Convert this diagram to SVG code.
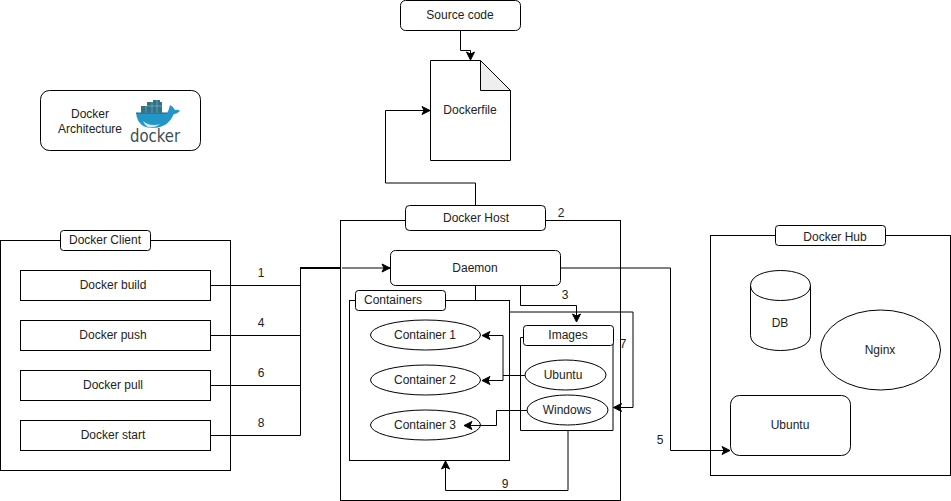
<svg xmlns="http://www.w3.org/2000/svg" width="951" height="501" viewBox="0 0 951 501">
<style>
.s{fill:#fff;stroke:#000;stroke-width:1}
.c{fill:none;stroke:#000;stroke-width:1}
text{font-family:"Liberation Sans",Arial,sans-serif;font-size:12px;fill:#222;text-anchor:middle}
</style>
<defs>
<marker id="a" markerUnits="userSpaceOnUse" markerWidth="12" markerHeight="12" refX="9" refY="6" orient="auto"><path d="M1 2L9 6L1 10L3 6Z" fill="#000" stroke="#000" stroke-width="1"/></marker>
</defs>
<rect width="951" height="501" fill="#fff"/>
<g id="host-frame"><rect class="s" x="340.5" y="220.5" width="280" height="280"/></g>
<g id="client-frame"><rect class="s" x="0.5" y="240.5" width="230" height="230"/></g>
<g id="hub-frame"><rect class="s" x="710.5" y="235.5" width="240" height="240"/></g>
<g id="containers-frame"><rect class="s" x="349.5" y="300.5" width="160" height="160"/></g>
<g id="images-frame"><path class="s" d="M520.500 337.500H613V430.500H520.500Z"/></g>
<g id="source-code"><rect class="s" x="400.5" y="0.5" width="120" height="30" rx="5"/><text x="460" y="19">Source code</text></g>
<g id="dockerfile"><path class="s" d="M430.5 60.5H480.5L510.5 90.5V160.5H430.5Z"/><path d="M480.5 60.5V90.5H510.5Z" fill="#eee" stroke="#000"/><text x="470" y="114">Dockerfile</text></g>
<g id="docker-architecture"><rect class="s" x="40.5" y="90.5" width="160" height="60" rx="9"/><text x="90" y="118">Docker</text><text x="90" y="133">Architecture</text>
<g id="logo">
<path d="M136 113H167Q169 110 170 105Q174 107 175 110Q178 109 180 111Q177 114 173.500 114.500Q168 128 152 128Q138 128 136 113Z" fill="#2396c9"/>
<path d="M136 113H167" stroke="#1d5f78" stroke-width="1" fill="none"/>
<path d="M143 121Q150 127 160 124Q155 128 149 127.500Q145 126 143 121Z" fill="#d5e9f2"/>
<path d="M141 106h21v7h-21zM147 102h15v4h-15zM153 100h7v3h-7z" fill="#2f7488"/>
<path d="M146 106v7M152 102v11M157 100v13M147 106h15" stroke="#9cc4cf" stroke-width="0.5" fill="none"/>
<text x="155" y="142" textLength="50" lengthAdjust="spacingAndGlyphs" style="font-size:17px;fill:#394d54;font-family:'DejaVu Sans',sans-serif">docker</text>
</g></g>
<g id="docker-host-label"><rect class="s" x="405.500" y="205.500" width="140" height="25" rx="4"/><text x="476" y="222">Docker Host</text></g>
<g id="daemon"><rect class="s" x="390.500" y="250.500" width="170" height="35" rx="5"/><text x="475" y="272">Daemon</text></g>
<g id="containers-label"><rect class="s" x="355.500" y="290.500" width="90" height="20" rx="3"/><text x="393" y="304">Containers</text></g>
<g id="images-label"><rect class="s" x="523.500" y="325.500" width="90" height="20" rx="3"/><text x="568" y="339">Images</text></g>
<g id="container-1"><ellipse class="s" cx="425.500" cy="335" rx="55" ry="15"/><text x="425" y="339">Container 1</text></g>
<g id="container-2"><ellipse class="s" cx="425.500" cy="380" rx="55" ry="15"/><text x="425" y="384">Container 2</text></g>
<g id="container-3"><ellipse class="s" cx="425.500" cy="425" rx="55" ry="15"/><text x="425" y="429">Container 3</text></g>
<g id="image-ubuntu"><ellipse class="s" cx="565.500" cy="375" rx="40.500" ry="15"/><text x="563" y="379">Ubuntu</text></g>
<g id="image-windows"><ellipse class="s" cx="567.500" cy="410" rx="40.500" ry="15"/><text x="567" y="414">Windows</text></g>
<g id="docker-client-label"><rect class="s" x="60.500" y="230.500" width="90" height="20" rx="3"/><text x="105" y="244">Docker Client</text></g>
<g id="docker-build"><rect class="s" x="20.500" y="270.500" width="190" height="30"/><text x="113" y="289">Docker build</text></g>
<g id="docker-push"><rect class="s" x="20.500" y="320.500" width="190" height="30"/><text x="113" y="339">Docker push</text></g>
<g id="docker-pull"><rect class="s" x="20.500" y="370.500" width="190" height="30"/><text x="113" y="389">Docker pull</text></g>
<g id="docker-start"><rect class="s" x="20.500" y="420.500" width="190" height="30"/><text x="113" y="439">Docker start</text></g>
<g id="docker-hub-label"><rect class="s" x="775.500" y="225.500" width="110" height="20" rx="3"/><text x="835" y="241">Docker Hub</text></g>
<g id="db"><path class="s" d="M750.500 285.500C750.500 265.500 810.500 265.500 810.500 285.500V335.500C810.500 355.500 750.500 355.500 750.500 335.500Z"/><path class="c" d="M750.500 285.500C750.500 305.500 810.500 305.500 810.500 285.500"/><text x="780" y="327">DB</text></g>
<g id="nginx"><ellipse class="s" cx="880.500" cy="350" rx="60" ry="40"/><text x="880" y="354">Nginx</text></g>
<g id="hub-ubuntu"><rect class="s" x="730.500" y="395.500" width="120" height="60" rx="9"/><text x="790" y="429">Ubuntu</text></g>
<g id="connectors">
<path class="c" d="M460.500 30.500V50.500H470.500V60" marker-end="url(#a)"/>
<path class="c" d="M475.500 205V183H385.500V110.500H430" marker-end="url(#a)"/>
<path class="c" d="M210.500 285.500H300.500V268.500"/>
<path class="c" d="M210.500 335.500H300.500V268.500"/>
<path class="c" d="M210.500 385.500H300.500V268.500"/>
<path class="c" d="M210.500 435.500H300.500V268"/>
<path d="M300 268H340" fill="none" stroke="#000" stroke-width="2"/>
<path class="c" d="M342 268H390" marker-end="url(#a)"/>
<path class="c" d="M475.500 285.500V300"/>
<path class="c" d="M520.500 285.500V305.500H576.500V322" marker-end="url(#a)"/>
<path class="c" d="M510 312H633V407.500H613.500" marker-end="url(#a)"/>
<path class="c" d="M561 268H670.500V450.500H730" marker-end="url(#a)"/>
<path class="c" d="M525 375.500H503V335.500H482" marker-end="url(#a)"/>
<path class="c" d="M503 375.500V380.500H482" marker-end="url(#a)"/>
<path class="c" d="M527 410.500H496.500V425.500H464" marker-end="url(#a)"/>
<path class="c" d="M568 431V490.500H445.500V461" marker-end="url(#a)"/>
</g>
<g id="labels">
<text x="261" y="277">1</text><text x="561" y="217">2</text><text x="565" y="299">3</text><text x="261" y="327">4</text><text x="660" y="444">5</text><text x="261" y="377">6</text><text x="623" y="348">7</text><text x="261" y="427">8</text><text x="505" y="488">9</text>
</g>
</svg>
